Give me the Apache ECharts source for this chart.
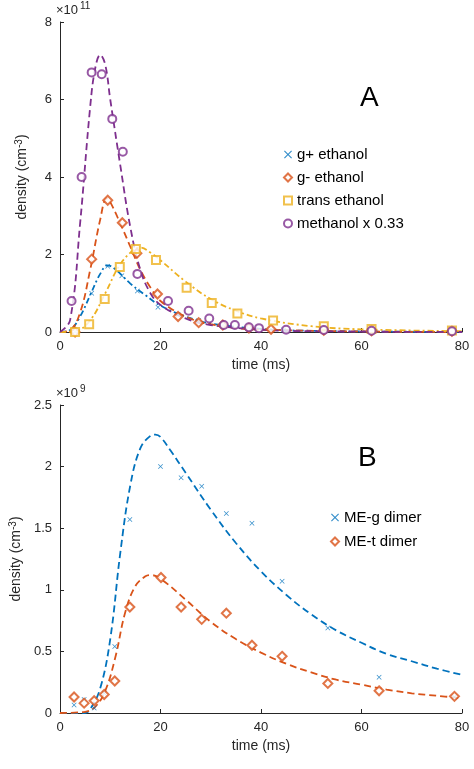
<!DOCTYPE html>
<html><head><meta charset="utf-8">
<script src="https://cdn.jsdelivr.net/npm/echarts@6/dist/echarts.min.js"></script>
<style>html,body{margin:0;padding:0;background:#fff}#c{width:474px;height:769px}</style>
</head><body><div id="c"></div>
<script>
// Panel A (units of 1e11 cm^-3)
const gPlusPts = [[3,0],[6.3,1.0],[9.5,1.7],[12.3,1.45],[15.4,1.06],[19.5,0.64],[23.5,0.45],[27.6,0.3],[32.4,0.18],[37.6,0.1],[44.5,0.05],[52.5,0.03],[62,0.02],[78,0.01]];
const gMinusPts = [[3,0],[6.3,1.88],[9.5,3.4],[12.4,2.82],[15.3,2.03],[19.4,0.98],[23.5,0.4],[27.6,0.24],[32.4,0.18],[37.6,0.1],[42,0.07],[52.5,0.04],[62,0.03],[78,0.02]];
const transPts = [[3,0],[5.8,0.2],[8.9,0.85],[11.9,1.68],[15.1,2.14],[19.1,1.86],[25.2,1.14],[30.2,0.75],[35.3,0.48],[42.4,0.3],[52.5,0.15],[62,0.08],[78,0.04]];
const methPts = [[2.3,0.8],[4.3,4.0],[6.3,6.7],[8.3,6.65],[10.4,5.5],[12.5,4.65],[15.4,1.5],[21.5,0.8],[25.6,0.55],[29.7,0.35],[32.6,0.18],[34.8,0.18],[37.6,0.12],[39.6,0.1],[45,0.06],[52.5,0.05],[62,0.03],[78,0.02]];
const gPlusFit = [[0,0],[2,0.05],[4,0.4],[6,0.95],[8,1.5],[9.5,1.72],[11,1.62],[14,1.25],[17,0.95],[20,0.68],[25,0.4],[30,0.22],[40,0.08],[50,0.03],[80,0]];
const gMinusFit = [[0,0],[2,0.05],[4,0.5],[6,1.6],[8,2.9],[9.3,3.45],[10,3.35],[12,2.8],[14,2.2],[16,1.6],[18,1.15],[20,0.8],[25,0.4],[30,0.2],[40,0.06],[80,0]];
const transFit = [[0,0],[3,0.02],[6,0.3],[9,1.0],[12,1.75],[15,2.15],[16,2.18],[18,2.05],[20,1.85],[25,1.3],[30,0.85],[35,0.55],[40,0.35],[50,0.15],[60,0.07],[80,0.02]];
const methFit = [[0,0],[2,0.3],[4,2.8],[6,5.8],[7,6.8],[8,7.15],[9,6.9],[10,6.0],[12,4.3],[14,2.7],[16,1.6],[18,1.0],[20,0.7],[25,0.35],[30,0.18],[40,0.06],[50,0.02],[80,0]];
// Panel B (units of 1e9 cm^-3)
const megPts = [[2.8,0.065],[4.8,0.11],[6.8,0.04],[8.8,0.16],[10.9,0.54],[13.9,1.57],[20,2.0],[24.1,1.91],[28.2,1.84],[33.1,1.62],[38.2,1.54],[44.2,1.07],[53.3,0.69],[63.5,0.29],[78.5,0.13]];
const metPts = [[2.8,0.13],[4.8,0.08],[6.8,0.1],[8.8,0.15],[10.9,0.26],[13.9,0.86],[20.1,1.1],[24.1,0.86],[28.2,0.76],[33.1,0.81],[38.2,0.55],[44.2,0.46],[53.3,0.24],[63.5,0.18],[78.5,0.135]];
const megFit = [[0,0],[5,0],[6,0.03],[8,0.2],[10,0.6],[12,1.3],[14,1.85],[16,2.15],[18,2.25],[19,2.26],[20,2.24],[22,2.13],[25,1.95],[30,1.65],[35,1.38],[40,1.15],[45,0.96],[50,0.8],[55,0.67],[60,0.57],[65,0.48],[70,0.42],[75,0.36],[80,0.31]];
const metFit = [[0,0],[5,0.01],[7,0.05],[9,0.18],[11,0.45],[13,0.82],[15,1.03],[17,1.11],[18,1.12],[20,1.09],[25,0.92],[30,0.74],[35,0.6],[40,0.49],[45,0.4],[50,0.33],[55,0.27],[60,0.23],[65,0.19],[70,0.16],[75,0.14],[80,0.12]];
const namesA = ['g+ ethanol','g- ethanol','trans ethanol','methanol x 0.33'];
const namesB = ['ME-g dimer','ME-t dimer'];

const C = {b:'#0072BD', r:'#D95319', y:'#EDB120', p:'#7E2F8E'};
const F = 'Liberation Sans, Arial, sans-serif';
const X = 'path://M0,1L1,0L5,4L9,0L10,1L6,5L10,9L9,10L5,6L1,10L0,9L4,5Z';
const axisCommon = {axisLine:{show:true,lineStyle:{color:'#262626',width:1}},axisTick:{show:true,inside:true,length:4,lineStyle:{color:'#262626'}},splitLine:{show:false},axisLabel:{color:'#262626',fontSize:13,fontFamily:F},nameTextStyle:{color:'#262626',fontSize:14,fontFamily:F}};
const yName = {name:'{a|density (cm}{s|-3}{a|)}',nameLocation:'middle',nameGap:30,nameTextStyle:{rich:{a:{fontSize:14,fontFamily:F,color:'#262626'},s:{fontSize:10,fontFamily:F,color:'#262626',verticalAlign:'top',padding:[0,0,6,0]}}}};
function pts(name,data,sym,col,size,xi){return {name,type:'scatter',xAxisIndex:xi,yAxisIndex:xi,data,symbol:sym,symbolSize:size,itemStyle:{color:col,borderColor:col,borderWidth:sym===X?0:1.6},z:3};}
function fit(data,col,type,xi){return {type:'line',xAxisIndex:xi,yAxisIndex:xi,data,smooth:0.4,showSymbol:false,lineStyle:{color:col,width:1.8,type:type},z:2,silent:true};}
const chart = echarts.init(document.getElementById('c'));
chart.setOption({
  animation:false,
  grid:[{left:60,top:22,width:402,height:310},{left:60,top:405,width:402,height:308}],
  xAxis:[Object.assign({},axisCommon,{gridIndex:0,type:'value',min:0,max:80,interval:20,name:'time (ms)',nameLocation:'middle',nameGap:26}),
         Object.assign({},axisCommon,{gridIndex:1,type:'value',min:0,max:80,interval:20,name:'time (ms)',nameLocation:'middle',nameGap:26})],
  yAxis:[Object.assign({},axisCommon,yName,{gridIndex:0,type:'value',min:0,max:8,interval:2}),
         Object.assign({},axisCommon,yName,{gridIndex:1,type:'value',min:0,max:2.5,interval:0.5})],
  legend:[{data:[{name:namesA[0],icon:X},{name:namesA[1],icon:'emptyDiamond'},{name:namesA[2],icon:'emptyRect'},{name:namesA[3],icon:'emptyCircle'}],orient:'vertical',left:278,top:142,itemWidth:8,itemHeight:8,itemGap:8,textStyle:{fontSize:15,fontFamily:F,color:'#000'}},
          {data:[{name:namesB[0],icon:X},{name:namesB[1],icon:'emptyDiamond'}],orient:'vertical',left:325,top:505,itemWidth:8,itemHeight:8,itemGap:9,textStyle:{fontSize:15,fontFamily:F,color:'#000'}}],
  graphic:[
    {type:'text',left:56,top:4,style:{text:'×10',fontSize:13,fontFamily:F,fill:'#262626'}},
    {type:'text',left:80,top:1,style:{text:'11',fontSize:10,fontFamily:F,fill:'#262626'}},
    {type:'text',left:56,top:387,style:{text:'×10',fontSize:13,fontFamily:F,fill:'#262626'}},
    {type:'text',left:80,top:384,style:{text:'9',fontSize:10,fontFamily:F,fill:'#262626'}},
    {type:'text',left:360,top:84,style:{text:'A',fontSize:28,fontFamily:F,fill:'#000'}},
    {type:'text',left:358,top:444,style:{text:'B',fontSize:28,fontFamily:F,fill:'#000'}}
  ],
  series:[
    fit(gPlusFit,C.b,[6,3,2,3],0), fit(gMinusFit,C.r,[7,4],0), fit(transFit,C.y,[6,3,2,3],0), fit(methFit,C.p,[7,4],0),
    pts(namesA[0],gPlusPts,X,C.b,5,0), pts(namesA[1],gMinusPts,'emptyDiamond',C.r,9,0),
    pts(namesA[2],transPts,'emptyRect',C.y,8,0), pts(namesA[3],methPts,'emptyCircle',C.p,8,0),
    fit(megFit,C.b,[7,4],1), fit(metFit,C.r,[7,4],1),
    pts(namesB[0],megPts,X,C.b,5,1), pts(namesB[1],metPts,'emptyDiamond',C.r,9,1)
  ]
});
</script></body></html>
